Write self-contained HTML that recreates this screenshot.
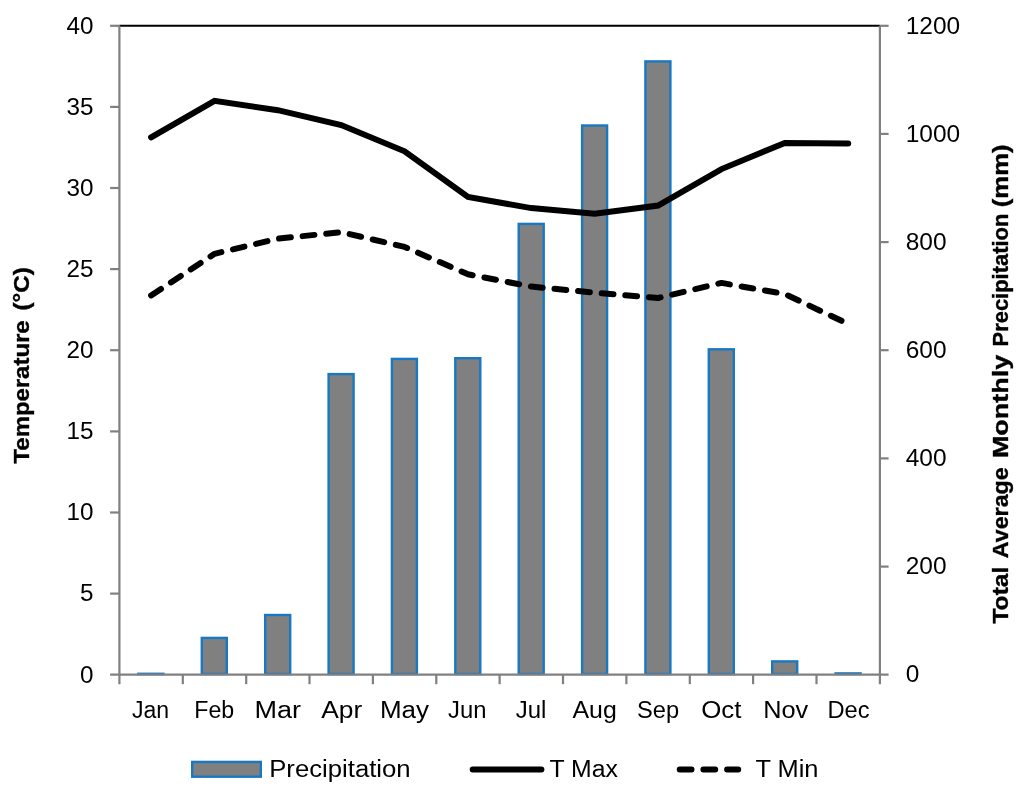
<!DOCTYPE html>
<html lang="en"><head><meta charset="utf-8"><title>Climate chart</title>
<style>html,body{margin:0;padding:0;background:#fff}svg{display:block}text{font-family:"Liberation Sans",sans-serif;fill:#000}</style></head><body>
<svg width="1024" height="790" viewBox="0 0 1024 790">
<rect width="1024" height="790" fill="#fff"/>
<g fill="#808080" stroke="#1878c2" stroke-width="2.4">
<rect x="138.4" y="673.8" width="25.0" height="0.3"/>
<rect x="201.8" y="637.9" width="25.0" height="36.1"/>
<rect x="265.2" y="615.0" width="25.0" height="59.0"/>
<rect x="328.6" y="374.1" width="25.0" height="299.9"/>
<rect x="391.9" y="358.9" width="25.0" height="315.1"/>
<rect x="455.3" y="358.2" width="25.0" height="315.8"/>
<rect x="518.7" y="223.9" width="25.0" height="450.1"/>
<rect x="582.1" y="125.5" width="25.0" height="548.5"/>
<rect x="645.4" y="61.4" width="25.0" height="612.6"/>
<rect x="708.8" y="349.3" width="25.0" height="324.7"/>
<rect x="772.2" y="661.4" width="25.0" height="12.6"/>
<rect x="835.6" y="673.4" width="25.0" height="0.6"/>
</g>
<line x1="119.4" y1="25.8" x2="879.9" y2="25.8" stroke="#000" stroke-width="2"/>
<g stroke="#808080" stroke-width="2.2" fill="none">
<line x1="119.4" y1="25.8" x2="119.4" y2="684.2"/>
<line x1="879.9" y1="25.8" x2="879.9" y2="684.2"/>
<line x1="110.10000000000001" y1="674.7" x2="888.6" y2="674.7"/>
<line x1="110.10000000000001" y1="593.6" x2="119.4" y2="593.6"/>
<line x1="110.10000000000001" y1="512.5" x2="119.4" y2="512.5"/>
<line x1="110.10000000000001" y1="431.4" x2="119.4" y2="431.4"/>
<line x1="110.10000000000001" y1="350.2" x2="119.4" y2="350.2"/>
<line x1="110.10000000000001" y1="269.1" x2="119.4" y2="269.1"/>
<line x1="110.10000000000001" y1="188.0" x2="119.4" y2="188.0"/>
<line x1="110.10000000000001" y1="106.9" x2="119.4" y2="106.9"/>
<line x1="879.9" y1="566.6" x2="888.6" y2="566.6"/>
<line x1="879.9" y1="458.4" x2="888.6" y2="458.4"/>
<line x1="879.9" y1="350.2" x2="888.6" y2="350.2"/>
<line x1="879.9" y1="242.1" x2="888.6" y2="242.1"/>
<line x1="879.9" y1="133.9" x2="888.6" y2="133.9"/>
<line x1="879.9" y1="25.8" x2="888.6" y2="25.8"/>
<line x1="110.10000000000001" y1="25.8" x2="119.4" y2="25.8"/>
<line x1="182.8" y1="674.7" x2="182.8" y2="684.2"/>
<line x1="246.2" y1="674.7" x2="246.2" y2="684.2"/>
<line x1="309.5" y1="674.7" x2="309.5" y2="684.2"/>
<line x1="372.9" y1="674.7" x2="372.9" y2="684.2"/>
<line x1="436.3" y1="674.7" x2="436.3" y2="684.2"/>
<line x1="499.6" y1="674.7" x2="499.6" y2="684.2"/>
<line x1="563.0" y1="674.7" x2="563.0" y2="684.2"/>
<line x1="626.4" y1="674.7" x2="626.4" y2="684.2"/>
<line x1="689.8" y1="674.7" x2="689.8" y2="684.2"/>
<line x1="753.1" y1="674.7" x2="753.1" y2="684.2"/>
<line x1="816.5" y1="674.7" x2="816.5" y2="684.2"/>
</g>
<polyline points="151.1,137.3 214.5,100.9 277.8,110.2 341.2,125.1 404.6,151.3 468.0,196.9 531.3,208.1 594.7,213.7 658.1,205.5 721.5,169.1 784.8,142.9 848.2,143.5" fill="none" stroke="#000" stroke-width="6" stroke-linecap="round" stroke-linejoin="miter"/>
<polyline points="151.1,295.4 214.5,253.8 277.8,238.7 341.2,232.1 404.6,246.9 468.0,274.3 531.3,286.6 594.7,292.6 658.1,298 721.5,282.9 784.8,294 848.2,324" fill="none" stroke="#000" stroke-width="6" stroke-linecap="round" stroke-linejoin="round" stroke-dasharray="11.8 11.9"/>
<g font-size="23" text-anchor="end">
<text x="93.4" y="682.5" textLength="13.5" lengthAdjust="spacingAndGlyphs">0</text>
<text x="93.4" y="601.4" textLength="13.5" lengthAdjust="spacingAndGlyphs">5</text>
<text x="93.4" y="520.3" textLength="27.0" lengthAdjust="spacingAndGlyphs">10</text>
<text x="93.4" y="439.2" textLength="27.0" lengthAdjust="spacingAndGlyphs">15</text>
<text x="93.4" y="358.1" textLength="27.0" lengthAdjust="spacingAndGlyphs">20</text>
<text x="93.4" y="276.9" textLength="27.0" lengthAdjust="spacingAndGlyphs">25</text>
<text x="93.4" y="195.8" textLength="27.0" lengthAdjust="spacingAndGlyphs">30</text>
<text x="93.4" y="114.7" textLength="27.0" lengthAdjust="spacingAndGlyphs">35</text>
<text x="93.4" y="33.6" textLength="27.0" lengthAdjust="spacingAndGlyphs">40</text>
</g>
<g font-size="23">
<text x="905.7" y="682.4" textLength="13.6" lengthAdjust="spacingAndGlyphs">0</text>
<text x="905.7" y="574.3" textLength="40.8" lengthAdjust="spacingAndGlyphs">200</text>
<text x="905.7" y="466.1" textLength="40.8" lengthAdjust="spacingAndGlyphs">400</text>
<text x="905.7" y="357.9" textLength="40.8" lengthAdjust="spacingAndGlyphs">600</text>
<text x="905.7" y="249.8" textLength="40.8" lengthAdjust="spacingAndGlyphs">800</text>
<text x="905.7" y="141.6" textLength="54.4" lengthAdjust="spacingAndGlyphs">1000</text>
<text x="905.7" y="33.5" textLength="54.4" lengthAdjust="spacingAndGlyphs">1200</text>
</g>
<g font-size="23">
<text x="132.0" y="717.8" textLength="37.2" lengthAdjust="spacingAndGlyphs">Jan</text>
<text x="194.3" y="717.8" textLength="39.9" lengthAdjust="spacingAndGlyphs">Feb</text>
<text x="254.4" y="717.8" textLength="46.6" lengthAdjust="spacingAndGlyphs">Mar</text>
<text x="321.2" y="717.8" textLength="41.0" lengthAdjust="spacingAndGlyphs">Apr</text>
<text x="379.9" y="717.8" textLength="49.1" lengthAdjust="spacingAndGlyphs">May</text>
<text x="448.1" y="717.8" textLength="38.4" lengthAdjust="spacingAndGlyphs">Jun</text>
<text x="515.7" y="717.8" textLength="30.6" lengthAdjust="spacingAndGlyphs">Jul</text>
<text x="572.5" y="717.8" textLength="44.3" lengthAdjust="spacingAndGlyphs">Aug</text>
<text x="637.0" y="717.8" textLength="42.1" lengthAdjust="spacingAndGlyphs">Sep</text>
<text x="701.2" y="717.8" textLength="40.2" lengthAdjust="spacingAndGlyphs">Oct</text>
<text x="763.2" y="717.8" textLength="45.0" lengthAdjust="spacingAndGlyphs">Nov</text>
<text x="827.4" y="717.8" textLength="42.1" lengthAdjust="spacingAndGlyphs">Dec</text>
</g>
<g font-size="22" font-weight="bold" stroke="#000" stroke-width="0.35">
<text transform="translate(29.4 463.5) rotate(-90)" textLength="143.1" lengthAdjust="spacingAndGlyphs">Temperature</text>
<text transform="translate(29.4 310.6) rotate(-90)" textLength="43.4" lengthAdjust="spacingAndGlyphs">(°C)</text>
<text transform="translate(1008.2 623.6) rotate(-90)" textLength="57.0" lengthAdjust="spacingAndGlyphs">Total</text>
<text transform="translate(1008.2 558.2) rotate(-90)" textLength="90.9" lengthAdjust="spacingAndGlyphs">Average</text>
<text transform="translate(1008.2 458.1) rotate(-90)" textLength="103.3" lengthAdjust="spacingAndGlyphs">Monthly</text>
<text transform="translate(1008.2 346.4) rotate(-90)" textLength="132.7" lengthAdjust="spacingAndGlyphs">Precipitation</text>
<text transform="translate(1008.2 207.2) rotate(-90)" textLength="62.8" lengthAdjust="spacingAndGlyphs">(mm)</text>
</g>
<rect x="192.2" y="761.9" width="68.6" height="14.8" fill="#808080" stroke="#1878c2" stroke-width="2.4"/>
<text x="269.2" y="777" font-size="23" textLength="141.5" lengthAdjust="spacingAndGlyphs">Precipitation</text>
<line x1="472.7" y1="769.6" x2="541.4" y2="769.6" stroke="#000" stroke-width="6" stroke-linecap="round"/>
<text x="549.5" y="777" font-size="23" textLength="68.5" lengthAdjust="spacingAndGlyphs">T Max</text>
<line x1="679.7" y1="769.6" x2="738.2" y2="769.6" stroke="#000" stroke-width="6" stroke-linecap="round" stroke-dasharray="11.8 11.9"/>
<text x="755.4" y="777" font-size="23" textLength="63.1" lengthAdjust="spacingAndGlyphs">T Min</text>
</svg></body></html>
